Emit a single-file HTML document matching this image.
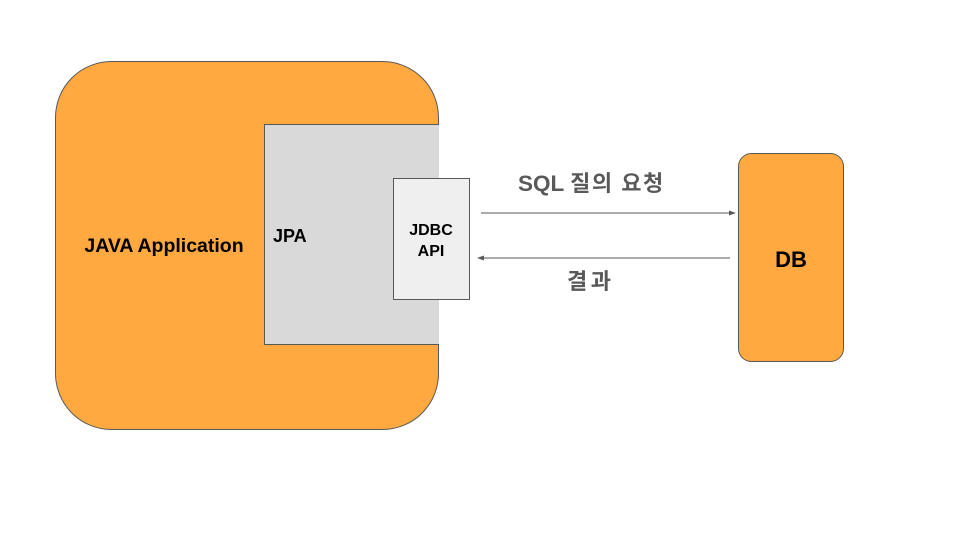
<!DOCTYPE html>
<html><head><meta charset="utf-8"><style>
body{margin:0;width:960px;height:540px;background:#fff;overflow:hidden}
</style></head><body>
<svg width="960" height="540" xmlns="http://www.w3.org/2000/svg" font-family="Liberation Sans, Noto Sans CJK KR, sans-serif">
<rect x="55.5" y="61.5" width="383" height="368" rx="56" fill="#ffa940" stroke="#595959" stroke-width="1"/>
<rect x="264.5" y="124.5" width="174" height="220" fill="#d9d9d9" stroke="#595959" stroke-width="1"/>
<rect x="438" y="125" width="1" height="219" fill="#d9d9d9"/>
<rect x="393.5" y="178.5" width="76" height="121" fill="#efefef" stroke="#595959" stroke-width="1"/>
<rect x="738.5" y="153.5" width="105" height="208" rx="13" fill="#ffa940" stroke="#595959" stroke-width="1"/>
<text x="164" y="252" font-size="19.5" font-weight="bold" text-anchor="middle" fill="#000">JAVA Application</text>
<text x="273" y="242" font-size="18" font-weight="bold" fill="#000">JPA</text>
<text x="431" y="235" font-size="16" font-weight="bold" text-anchor="middle" fill="#000">JDBC</text>
<text x="431" y="256" font-size="16" font-weight="bold" text-anchor="middle" fill="#000">API</text>
<text x="791" y="267" font-size="22" font-weight="bold" text-anchor="middle" fill="#000">DB</text>
<line x1="481" y1="213" x2="730" y2="213" stroke="#595959" stroke-width="1"/>
<polygon points="736,213 729,210.5 729,215.5" fill="#595959"/>
<line x1="483" y1="258" x2="730" y2="258" stroke="#595959" stroke-width="1"/>
<polygon points="477,258 484,255.5 484,260.5" fill="#595959"/>
<text x="518" y="191" font-size="22.5" font-weight="bold" fill="#595959">SQL <tspan font-size="22" letter-spacing="1.5">질의 요청</tspan></text>
<text x="567" y="289" font-size="22" font-weight="bold" letter-spacing="3.5" fill="#595959">결과</text>
</svg>
</body></html>
